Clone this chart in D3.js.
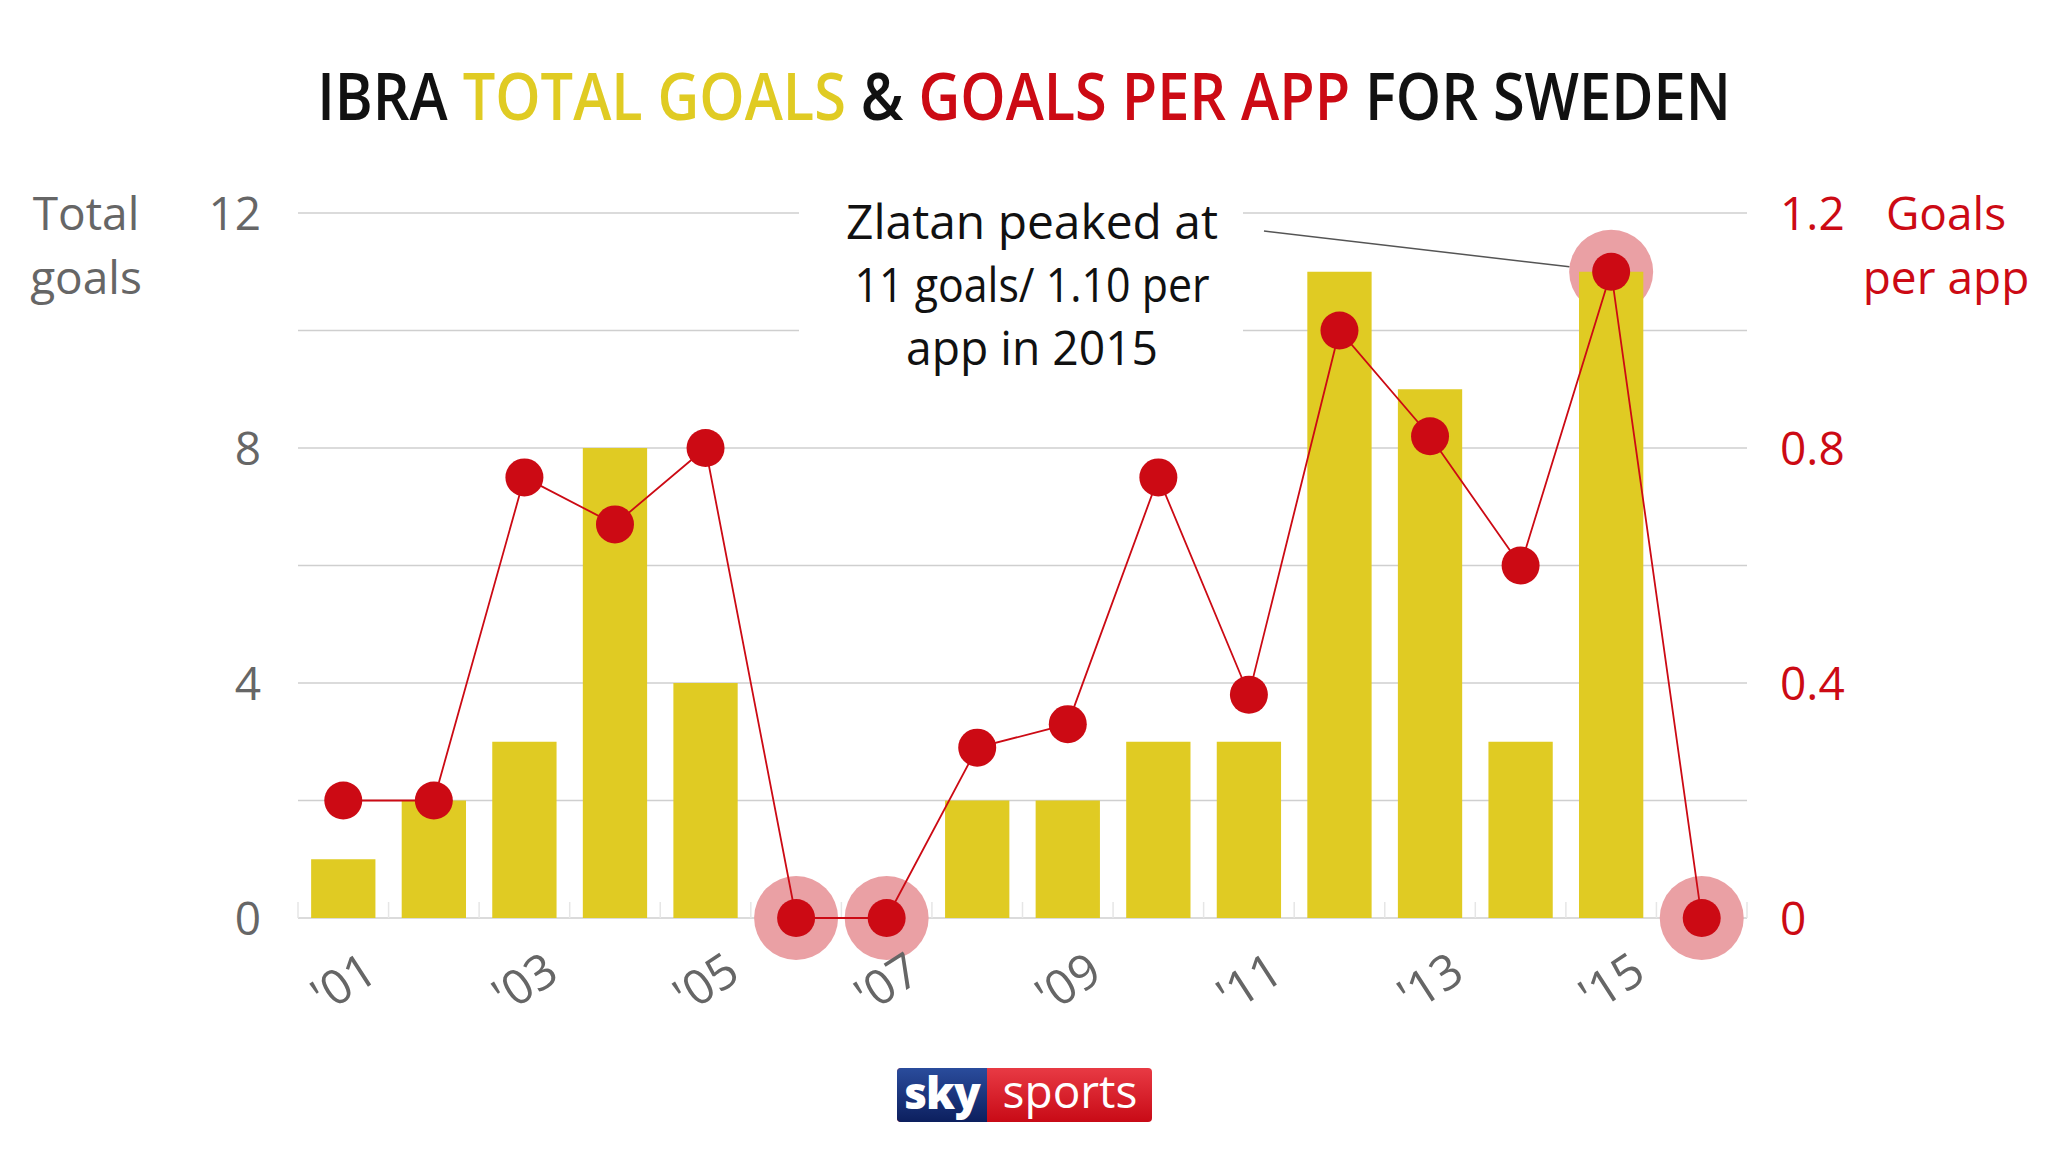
<!DOCTYPE html>
<html>
<head>
<meta charset="utf-8">
<script src="https://cdn.jsdelivr.net/npm/d3@7"></script>
<style>
  body { margin: 0; background: #fff; }
  text { font-family: "Open Sans", "Noto Sans", sans-serif; }
</style>
</head>
<body>
<div id="chart"></div>
<script>
const years = ["2001","2002","2003","2004","2005","2006","2007","2008","2009","2010","2011","2012","2013","2014","2015","2016"];
const totalGoals = [1, 2, 3, 8, 4, 0, 0, 2, 2, 3, 3, 11, 9, 3, 11, 0];
const goalsPerApp = [0.2, 0.2, 0.75, 0.67, 0.8, 0, 0, 0.29, 0.33, 0.75, 0.38, 1.0, 0.82, 0.6, 1.1, 0];
const highlighted = ["2006", "2007", "2015", "2016"];
const leftTicks = [0, 4, 8, 12];
const rightTicks = [0, 0.4, 0.8, 1.2];
const gridTicks = [0, 2, 4, 6, 8, 10, 12];
const xTickLabels = ["'01", "'03", "'05", "'07", "'09", "'11", "'13", "'15"];
const xTickYears = ["2001", "2003", "2005", "2007", "2009", "2011", "2013", "2015"];
const noteLines = ["Zlatan peaked at", "11 goals/ 1.10 per", "app in 2015"];

const width = 2048, height = 1152;
const yellow = "#e0cb23", red = "#cc0a14", grey = "#666";

const svg = d3.select("#chart")
    .append("svg")
    .attr("width", width)
    .attr("height", height);

svg.append("rect").attr("width", width).attr("height", height).attr("fill", "#fff");

const x = d3.scaleBand()
    .domain(years)
    .range([298, 1747])
    .paddingInner(0.29)
    .paddingOuter(0.145);

const y = d3.scaleLinear().domain([0, 12]).range([918, 213]);
const y2 = d3.scaleLinear().domain([0, 1.2]).range([918, 213]);
const cx = d => x(d) + x.bandwidth() / 2;

// title, squeezed horizontally to the reference width
const titleG = svg.append("g");
const title = titleG.append("text")
    .attr("x", 0)
    .attr("y", 0)
    .attr("text-anchor", "middle")
    .attr("font-size", 66)
    .attr("font-weight", 600);
[["IBRA ", "#111"], ["TOTAL GOALS", yellow], [" & ", "#111"], ["GOALS PER APP", red], [" FOR SWEDEN", "#111"]]
    .forEach(([t, c]) => title.append("tspan").attr("fill", c).text(t));
const tw = title.node().getComputedTextLength();
titleG.attr("transform", `translate(${width / 2},120) scale(${1414 / tw},1)`);

// gridlines
svg.append("g")
    .selectAll("line")
    .data(gridTicks)
    .join("line")
    .attr("x1", 298).attr("x2", 1747)
    .attr("y1", d => y(d)).attr("y2", d => y(d))
    .attr("stroke", "#cfcfcf")
    .attr("stroke-width", 1.5);

// faint ticks between bands
svg.append("g")
    .selectAll("line")
    .data(years.concat(["end"]))
    .join("line")
    .attr("x1", (d, i) => 298 + i * x.step())
    .attr("x2", (d, i) => 298 + i * x.step())
    .attr("y1", y(0) - 16).attr("y2", y(0))
    .attr("stroke", "#e6e6e6")
    .attr("stroke-width", 1.5);

// annotation background (hides gridlines)
svg.append("rect")
    .attr("x", 799).attr("y", 195)
    .attr("width", 444).attr("height", 180)
    .attr("fill", "#fff");

// halos
svg.append("g")
    .selectAll("circle")
    .data(years.filter(d => highlighted.includes(d)))
    .join("circle")
    .attr("cx", d => cx(d))
    .attr("cy", d => y2(goalsPerApp[years.indexOf(d)]))
    .attr("r", 42)
    .attr("fill", "#eaa0a4");

// bars
svg.append("g")
    .selectAll("rect")
    .data(years)
    .join("rect")
    .attr("x", d => x(d))
    .attr("width", x.bandwidth())
    .attr("y", (d, i) => y(totalGoals[i]))
    .attr("height", (d, i) => y(0) - y(totalGoals[i]))
    .attr("fill", yellow);

// goals per app line
const line = d3.line()
    .x((d, i) => cx(years[i]))
    .y(d => y2(d));

svg.append("path")
    .datum(goalsPerApp)
    .attr("d", line)
    .attr("fill", "none")
    .attr("stroke", red)
    .attr("stroke-width", 1.8);

svg.append("g")
    .selectAll("circle")
    .data(goalsPerApp)
    .join("circle")
    .attr("cx", (d, i) => cx(years[i]))
    .attr("cy", d => y2(d))
    .attr("r", 19)
    .attr("fill", red);

// left axis
svg.append("g")
    .selectAll("text")
    .data(leftTicks)
    .join("text")
    .attr("x", 261)
    .attr("y", d => y(d))
    .attr("dy", "0.36em")
    .attr("text-anchor", "end")
    .attr("font-size", 46)
    .attr("fill", grey)
    .text(d => d);

svg.append("g")
    .selectAll("text")
    .data(["Total", "goals"])
    .join("text")
    .attr("x", 86)
    .attr("y", (d, i) => 213 + i * 64)
    .attr("dy", "0.36em")
    .attr("text-anchor", "middle")
    .attr("font-size", 46)
    .attr("fill", grey)
    .text(d => d);

// right axis
svg.append("g")
    .selectAll("text")
    .data(rightTicks)
    .join("text")
    .attr("x", 1780)
    .attr("y", d => y2(d))
    .attr("dy", "0.36em")
    .attr("font-size", 46)
    .attr("fill", red)
    .text(d => d);

svg.append("g")
    .selectAll("text")
    .data(["Goals", "per app"])
    .join("text")
    .attr("x", 1946)
    .attr("y", (d, i) => 213 + i * 64)
    .attr("dy", "0.36em")
    .attr("text-anchor", "middle")
    .attr("font-size", 46)
    .attr("fill", red)
    .text(d => d);

// x tick labels
svg.append("g")
    .selectAll("text")
    .data(xTickLabels)
    .join("text")
    .attr("transform", (d, i) => `translate(${cx(xTickYears[i])},982) rotate(-33)`)
    .attr("dy", "0.36em")
    .attr("text-anchor", "middle")
    .attr("font-size", 48)
    .attr("fill", grey)
    .text(d => d);

// annotation
const noteWidths = [372, 355, 252];
svg.append("g")
    .selectAll("text")
    .data(noteLines)
    .join("text")
    .attr("x", 1032)
    .attr("y", (d, i) => 222 + i * 63)
    .attr("dy", "0.36em")
    .attr("text-anchor", "middle")
    .attr("font-size", 48)
    .attr("fill", "#111")
    .attr("textLength", (d, i) => noteWidths[i])
    .attr("lengthAdjust", "spacingAndGlyphs")
    .text(d => d);

const px = cx("2015"), py = y2(goalsPerApp[years.indexOf("2015")]);
const sx = 1264, sy = 231;
const len = Math.hypot(px - sx, py - sy);
svg.append("line")
    .attr("x1", sx).attr("y1", sy)
    .attr("x2", px - (px - sx) * 42 / len)
    .attr("y2", py - (py - sy) * 42 / len)
    .attr("stroke", "#555")
    .attr("stroke-width", 1.5);

// sky sports logo
const defs = svg.append("defs");
const gb = defs.append("linearGradient").attr("id", "gblue").attr("x1", 0).attr("x2", 0).attr("y1", 0).attr("y2", 1);
gb.append("stop").attr("offset", "0%").attr("stop-color", "#2a4c9c");
gb.append("stop").attr("offset", "100%").attr("stop-color", "#0c1f5e");
const gr = defs.append("linearGradient").attr("id", "gred").attr("x1", 0).attr("x2", 0).attr("y1", 0).attr("y2", 1);
gr.append("stop").attr("offset", "0%").attr("stop-color", "#e83a44");
gr.append("stop").attr("offset", "100%").attr("stop-color", "#c80a16");

const logo = svg.append("g").attr("transform", "translate(897,1068)");
logo.append("rect").attr("width", 255).attr("height", 54).attr("rx", 4).attr("fill", "url(#gred)");
logo.append("path").attr("d", "M4,0 H90 V54 H4 Q0,54 0,50 V4 Q0,0 4,0 Z").attr("fill", "url(#gblue)");
logo.append("text").attr("x", 45).attr("y", 41).attr("text-anchor", "middle")
    .attr("font-size", 44).attr("font-weight", 800).attr("fill", "#fff")
    .attr("letter-spacing", -1).text("sky");
logo.append("text").attr("x", 173).attr("y", 40).attr("text-anchor", "middle")
    .attr("font-size", 46).attr("fill", "#fff").text("sports");
</script>
</body>
</html>
